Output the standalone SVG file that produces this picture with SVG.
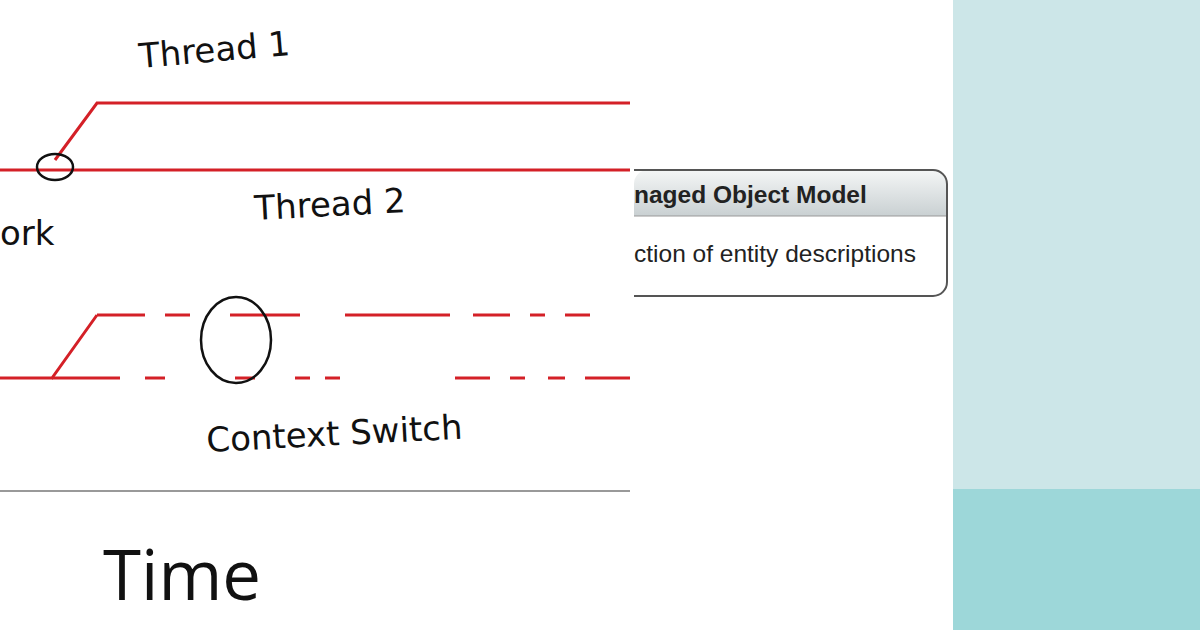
<svg xmlns="http://www.w3.org/2000/svg" width="1200" height="630" viewBox="0 0 1200 630">
<defs>
<linearGradient id="hg" x1="0" y1="0" x2="0" y2="1"><stop offset="0" stop-color="#f4f6f6"/><stop offset="1" stop-color="#c9d0d2"/></linearGradient>
<clipPath id="bc"><rect x="634" y="170" width="313" height="126" rx="14"/></clipPath>
</defs>
<style>
.r{stroke:#d42027;stroke-width:3;fill:none}
.h{font-family:"DejaVu Sans",sans-serif;font-size:34px;fill:#111}
.k{fill:none;stroke:#111;stroke-width:2.5}
</style>
<rect width="1200" height="630" fill="#fff"/>
<rect x="953" y="0" width="247" height="489" fill="#cce6e8"/>
<rect x="953" y="489" width="247" height="141" fill="#9dd7d9"/>
<g id="thread1">
<path class="r" d="M0 170H630M55 160L97 103H630"/>
<ellipse class="k" cx="55" cy="167" rx="18" ry="13"/>
<text class="h" x="140" y="68" transform="rotate(-5 140 68)">Thread 1</text>
<text class="h" x="0" y="245">ork</text>
</g>
<g id="thread2">
<path class="r" d="M0 378H52L97 315M97 315H145M165 315H190M230 315H300M345 315H450M473 315H510M530 315H545M565 315H590"/>
<path class="r" d="M52 378H120M145 378H165M235 378H255M295 378H310M325 378H340M455 378H490M510 378H525M548 378H565M585 378H630"/>
<text class="h" x="255" y="220" transform="rotate(-3 255 220)">Thread 2</text>
<ellipse class="k" cx="236" cy="340" rx="35" ry="43"/>
<text class="h" x="207" y="452" transform="rotate(-3 207 452)">Context Switch</text>
</g>
<line x1="0" y1="491" x2="630" y2="491" stroke="#999" stroke-width="2"/>
<text x="103" y="600" font-family="'Open Sans',sans-serif" font-size="69" fill="#111">Time</text>
<g id="model">
<g clip-path="url(#bc)">
<rect x="600" y="170" width="347" height="126" fill="#fff"/>
<rect x="600" y="170" width="347" height="46" fill="url(#hg)"/>
<line x1="600" y1="216" x2="947" y2="216" stroke="#999"/>
</g>
<path d="M634 170H933A14 14 0 0 1 947 184V282A14 14 0 0 1 933 296H634" fill="none" stroke="#555" stroke-width="2"/>
<text x="634" y="203" font-family="'Liberation Sans',sans-serif" font-weight="bold" font-size="24.5" fill="#222">naged Object Model</text>
<text x="634" y="262" font-family="'Liberation Sans',sans-serif" font-size="24.5" fill="#222">ction of entity descriptions</text>
</g>
</svg>
